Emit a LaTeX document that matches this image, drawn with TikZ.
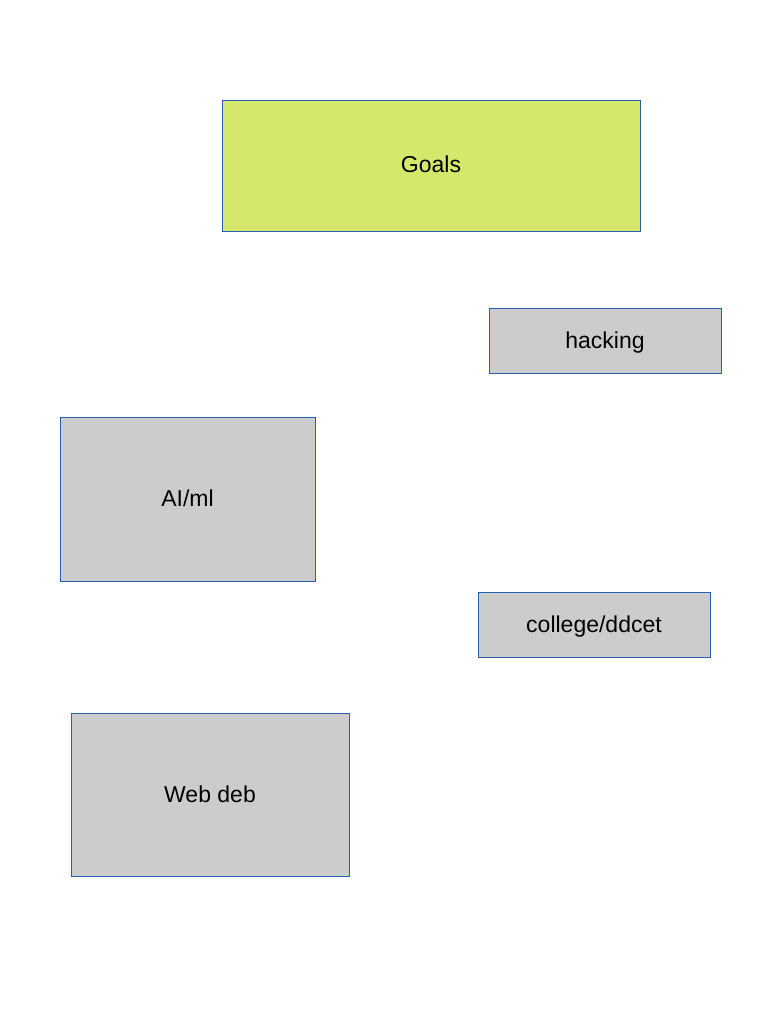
\documentclass[tikz,border=0pt]{standalone}
\usepackage{fontspec}
\setmainfont{Liberation Sans}
\definecolor{goalfill}{HTML}{D5E86B}
\definecolor{boxfill}{HTML}{CCCCCC}
\definecolor{edge}{HTML}{2A5CB0}
\begin{document}
\begin{tikzpicture}[x=1pt,y=-1pt,
  box/.style={draw=edge,line width=0.9pt,fill=boxfill,inner sep=0pt,text height=17pt,text depth=2pt,font=\fontsize{23}{27}\selectfont,text=black}]
\useasboundingbox (0,0) rectangle (768,1024);
\fill[white] (0,0) rectangle (768,1024);
\node[box,fill=goalfill,minimum width=418pt,minimum height=131pt] (goals) at (431,165.5) {Goals};
\node[box,minimum width=232pt,minimum height=65pt] (hacking) at (605,340.5) {hacking};
\node[box,minimum width=255pt,minimum height=164pt] (aiml) at (187.5,499) {AI/ml};
\node[box,minimum width=232pt,minimum height=65pt] (college) at (594,624.5) {college/ddcet};
\node[box,minimum width=278pt,minimum height=163pt] (web) at (210,794.5) {Web deb};
\end{tikzpicture}
\end{document}
